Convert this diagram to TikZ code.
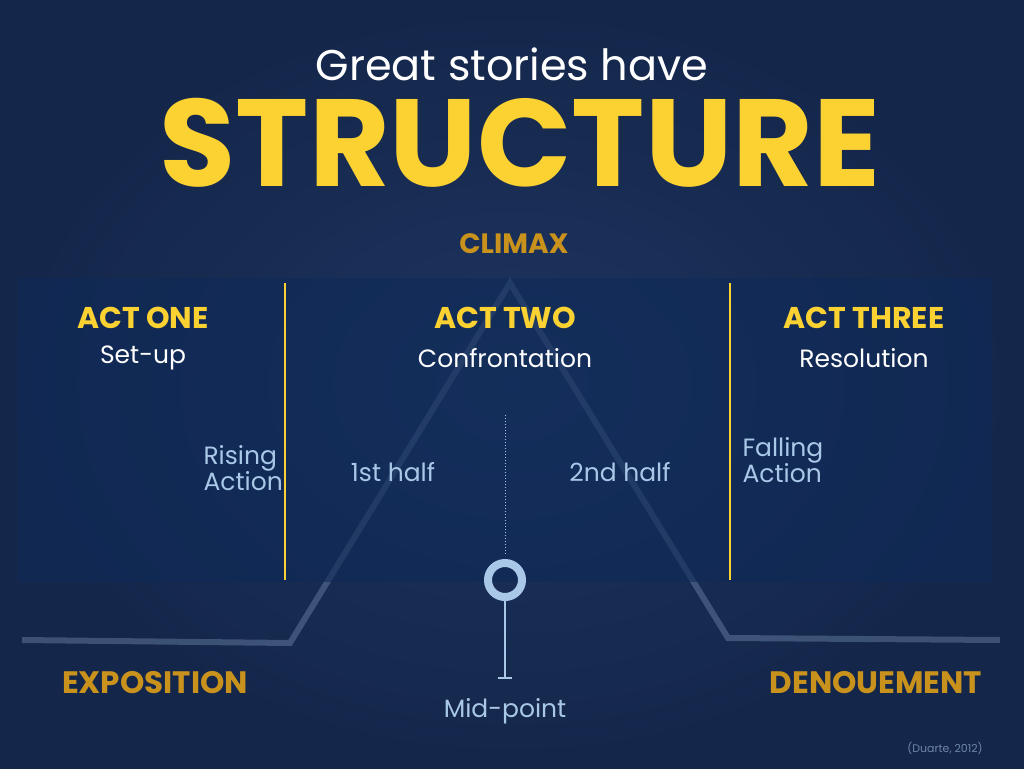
\documentclass[tikz,border=0pt]{standalone}
\usepackage{fontspec}
\setmainfont{Poppins}
\definecolor{navy}{HTML}{14264A}
\definecolor{navylight}{HTML}{1E3560}
\definecolor{band}{HTML}{0E2A58}
\definecolor{gold}{HTML}{FCD232}
\definecolor{ochre}{HTML}{C8921C}
\definecolor{paleblue}{HTML}{A9C8E8}
\tikzset{
  acthead/.style={text=gold, font=\bfseries\fontsize{30}{32}\selectfont},
  actsub/.style={text=white, font=\fontsize{25}{28}\selectfont},
  phase/.style={text=ochre, font=\bfseries\fontsize{31}{33}\selectfont},
  note/.style={text=paleblue, font=\fontsize{25}{26}\selectfont, align=left},
}
\begin{document}
\begin{tikzpicture}[x=1pt, y=-1pt]
    % background
    \useasboundingbox (0,0) rectangle (1024,768);
    \shade[inner color=navylight, outer color=navy] (0,0) rectangle (1024,768);

    % story arc
    \draw[paleblue!60!navy, opacity=0.45, line width=6pt, line join=miter]
        (22,640) -- (290,643) -- (510,283) -- (728,638) -- (1000,640);
    \fill[band, opacity=0.6] (18,278) rectangle (992,582);

    % title
    \node (title) at (512,64) {\color{white}\fontsize{43}{48}\selectfont Great stories have};
    \node (struct) at (520,143) {\color{gold}\bfseries\fontsize{124}{128}\selectfont STRUCTURE};

    % act dividers
    \draw[gold, line width=1.5pt] (285,283) -- (285,580);
    \draw[gold, line width=1.5pt] (730,283) -- (730,580);
    \draw[paleblue, dotted, line width=1pt] (505,415) -- (505,555);

    % mid-point marker
    \coordinate (tick) at (505,678);
    \draw[paleblue, line width=2pt] (505,598) -- (tick);
    \draw[paleblue, line width=2pt] (498,678) -- (512,678);
    \draw[paleblue, line width=8pt] (505,580) circle (17);

    % labels
    \node[phase, font=\bfseries\fontsize{28}{30}\selectfont] (climax) at (514,244) {CLIMAX};
    \node[acthead] (act1) at (143,318) {ACT ONE};
    \node[actsub] (setup) at (143,358) {Set-up};
    \node[acthead] (act2) at (505,318) {ACT TWO};
    \node[actsub] (confront) at (505,358) {Confrontation};
    \node[acthead] (act3) at (864,318) {ACT THREE};
    \node[actsub] (resol) at (864,358) {Resolution};
    \node[note, anchor=west] (rising) at (200,468) {Rising\\Action};
    \node[note, anchor=west] (falling) at (739,460) {Falling\\Action};
    \node[note] (half1) at (393,472) {1st half};
    \node[note] (half2) at (620,472) {2nd half};
    \node[phase] (expo) at (155,683) {EXPOSITION};
    \node[phase] (denoue) at (876,683) {DENOUEMENT};
    \node[note] (mid) at (505,711) {Mid-point};
    \node[text=paleblue!60!navy, font=\fontsize{11}{12}\selectfont] (cite) at (945,748) {(Duarte, 2012)};
\end{tikzpicture}
\end{document}
